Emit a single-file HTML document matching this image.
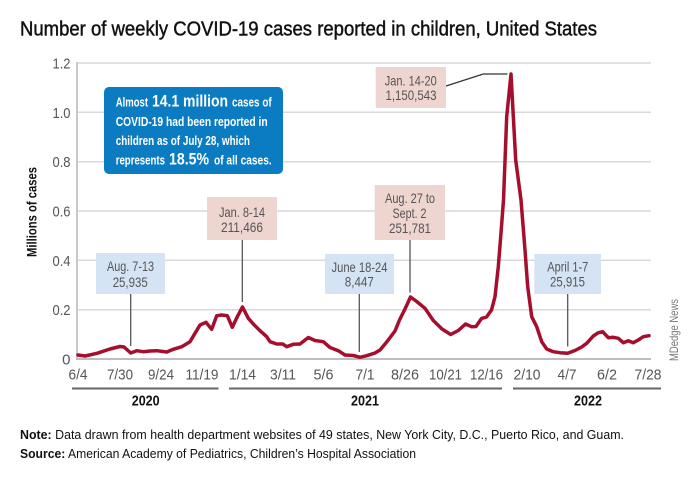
<!DOCTYPE html>
<html><head><meta charset="utf-8"><style>
html,body{margin:0;padding:0;background:#fff;}
svg{display:block;}
text{font-family:"Liberation Sans Narrow","Liberation Sans",sans-serif;}
</style></head><body>
<svg width="690" height="479" viewBox="0 0 690 479" xmlns="http://www.w3.org/2000/svg">
<rect width="690" height="479" fill="#fff"/>
<!-- title -->
<text x="20" y="35.5" font-size="20" fill="#111" stroke="#111" stroke-width="0.45" textLength="577" lengthAdjust="spacingAndGlyphs">Number of weekly COVID-19 cases reported in children, United States</text>

<!-- gridlines -->
<g stroke="#d9d9d9" stroke-width="1.5">
<line x1="77" y1="63" x2="651" y2="63"/>
<line x1="77" y1="112.3" x2="651" y2="112.3"/>
<line x1="77" y1="161.7" x2="651" y2="161.7"/>
<line x1="77" y1="211" x2="651" y2="211"/>
<line x1="77" y1="260.3" x2="651" y2="260.3"/>
<line x1="77" y1="309.7" x2="651" y2="309.7"/>
</g>
<line x1="77" y1="62" x2="77" y2="360" stroke="#c8c8c8" stroke-width="2"/>
<line x1="76" y1="359" x2="651" y2="359" stroke="#bdbdbd" stroke-width="2"/>

<!-- y tick labels -->
<g font-size="15" fill="#555" text-anchor="end">
<text x="70.5" y="68.5" textLength="18" lengthAdjust="spacingAndGlyphs">1.2</text>
<text x="70.5" y="117.8" textLength="18" lengthAdjust="spacingAndGlyphs">1.0</text>
<text x="70.5" y="167.2" textLength="18" lengthAdjust="spacingAndGlyphs">0.8</text>
<text x="70.5" y="216.5" textLength="18" lengthAdjust="spacingAndGlyphs">0.6</text>
<text x="70.5" y="265.8" textLength="18" lengthAdjust="spacingAndGlyphs">0.4</text>
<text x="70.5" y="315.2" textLength="18" lengthAdjust="spacingAndGlyphs">0.2</text>
<text x="70.5" y="364.5">0</text>
</g>
<text transform="translate(36.5,212) rotate(-90)" x="0" y="0" font-size="14" font-weight="bold" fill="#111" text-anchor="middle" textLength="90" lengthAdjust="spacingAndGlyphs">Millions of cases</text>

<!-- x tick labels -->
<g font-size="15" fill="#555" text-anchor="middle">
<text x="78" y="379.5" textLength="19" lengthAdjust="spacingAndGlyphs">6/4</text>
<text x="120" y="379.5" textLength="26" lengthAdjust="spacingAndGlyphs">7/30</text>
<text x="161" y="379.5" textLength="26" lengthAdjust="spacingAndGlyphs">9/24</text>
<text x="202" y="379.5" textLength="33" lengthAdjust="spacingAndGlyphs">11/19</text>
<text x="242.5" y="379.5" textLength="27" lengthAdjust="spacingAndGlyphs">1/14</text>
<text x="283" y="379.5" textLength="26" lengthAdjust="spacingAndGlyphs">3/11</text>
<text x="323.5" y="379.5" textLength="20" lengthAdjust="spacingAndGlyphs">5/6</text>
<text x="365" y="379.5" textLength="19" lengthAdjust="spacingAndGlyphs">7/1</text>
<text x="405" y="379.5" textLength="28" lengthAdjust="spacingAndGlyphs">8/26</text>
<text x="445.5" y="379.5" textLength="33" lengthAdjust="spacingAndGlyphs">10/21</text>
<text x="486.5" y="379.5" textLength="33" lengthAdjust="spacingAndGlyphs">12/16</text>
<text x="527" y="379.5" textLength="27" lengthAdjust="spacingAndGlyphs">2/10</text>
<text x="567" y="379.5" textLength="19" lengthAdjust="spacingAndGlyphs">4/7</text>
<text x="607" y="379.5" textLength="20" lengthAdjust="spacingAndGlyphs">6/2</text>
<text x="648" y="379.5" textLength="27" lengthAdjust="spacingAndGlyphs">7/28</text>
</g>

<!-- year brackets -->
<g stroke="#666" stroke-width="2">
<line x1="72" y1="388.5" x2="218.5" y2="388.5"/>
<line x1="229" y1="388.5" x2="502" y2="388.5"/>
<line x1="513" y1="388.5" x2="661" y2="388.5"/>
</g>
<g font-size="15" font-weight="bold" fill="#111" text-anchor="middle">
<text x="145.7" y="405.5" textLength="28" lengthAdjust="spacingAndGlyphs">2020</text>
<text x="365" y="405.5" textLength="28" lengthAdjust="spacingAndGlyphs">2021</text>
<text x="588" y="405.5" textLength="28" lengthAdjust="spacingAndGlyphs">2022</text>
</g>

<!-- MDedge -->
<text transform="translate(678,330) rotate(-90)" x="0" y="0" font-size="12" fill="#777" text-anchor="middle" textLength="62" lengthAdjust="spacingAndGlyphs">MDedge News</text>

<!-- leader lines -->
<g stroke="#555" stroke-width="1.3" fill="none">
<line x1="130.7" y1="294" x2="130.7" y2="346"/>
<line x1="242.3" y1="240" x2="242.3" y2="302"/>
<line x1="359.3" y1="294" x2="359.3" y2="352"/>
<line x1="410" y1="240" x2="410" y2="292.5"/>
<line x1="567.7" y1="294" x2="567.7" y2="346.5"/>
<polyline points="446,86 483.3,74 507.5,74" stroke="#333"/>
</g>

<!-- data line -->
<polyline fill="none" stroke="#a50e2c" stroke-width="3.5" stroke-linejoin="round" stroke-linecap="round" points="78,355 85,356 97,353.3 110,349 120,346.5 124,347 130.7,353 136.7,350.7 143.3,351.7 150,351 156.7,350.7 166.7,352 173.3,349.3 181.7,346.7 190,341.7 195,333.3 200,325 206,322.3 211.7,329.3 216.7,315.7 221.7,315 227.3,315.7 232.3,327.3 237.3,316.7 242.5,307 248.3,318.3 253.3,324 260,330.7 266.7,336.7 270,341.7 276.7,344 282.7,344 286.7,346.7 293.3,344.3 300,344 308.3,337.5 315,340.5 323.3,341.7 330,347.5 338.3,350.7 345,355 353.3,355.5 360,357.3 366.7,355.7 375,353 380,350 386.7,342 395,331 399.5,320 405,309 410.5,297 416.7,301.5 425,308.3 433.3,320.5 442,329 450.7,334.5 458.3,330.5 465.5,324 471.5,326.7 476,326.5 481.5,318.5 486.5,317 491.5,310 495,296.7 498.3,266.7 501,233 503.5,200 506.7,116.7 511,74 515.7,160 521,200 525,250 527.7,286.7 531.7,316.7 536.7,326.7 541.7,341.7 546.7,349 553.3,351.7 560,352.7 567.7,353.3 575,350.5 581.7,347 586.7,343.3 593.3,336 598.3,332.7 602.7,331.7 608.3,337.7 613.3,337.3 618.3,338.3 623.3,342.7 628.3,340.7 633.3,342.7 638.3,340 643.3,336.7 649,335.7"/>

<!-- annotation boxes -->
<rect x="96" y="253" width="69" height="41" fill="#d5e4f5"/>
<rect x="207" y="197" width="70" height="43" fill="#efd5d0"/>
<rect x="325" y="254" width="69" height="40" fill="#d5e4f5"/>
<rect x="374.7" y="185" width="70.3" height="55" fill="#efd5d0"/>
<rect x="375.7" y="67" width="70.3" height="41" fill="#efd5d0"/>
<rect x="534.3" y="254" width="66.7" height="40" fill="#d5e4f5"/>

<g font-size="14" fill="#555" text-anchor="middle">
<text x="130.5" y="271" textLength="47" lengthAdjust="spacingAndGlyphs">Aug. 7-13</text>
<text x="130.2" y="287" textLength="35" lengthAdjust="spacingAndGlyphs">25,935</text>
<text x="242" y="217" textLength="46" lengthAdjust="spacingAndGlyphs">Jan. 8-14</text>
<text x="242" y="232" textLength="42" lengthAdjust="spacingAndGlyphs">211,466</text>
<text x="359.5" y="272" textLength="56" lengthAdjust="spacingAndGlyphs">June 18-24</text>
<text x="359.3" y="286.5" textLength="29" lengthAdjust="spacingAndGlyphs">8,447</text>
<text x="410" y="203" textLength="50" lengthAdjust="spacingAndGlyphs">Aug. 27 to</text>
<text x="409.5" y="218" textLength="34" lengthAdjust="spacingAndGlyphs">Sept. 2</text>
<text x="410" y="233" textLength="42" lengthAdjust="spacingAndGlyphs">251,781</text>
<text x="410.8" y="85.5" textLength="52" lengthAdjust="spacingAndGlyphs">Jan. 14-20</text>
<text x="411" y="100" textLength="51" lengthAdjust="spacingAndGlyphs">1,150,543</text>
<text x="567.8" y="271.5" textLength="41" lengthAdjust="spacingAndGlyphs">April 1-7</text>
<text x="567.5" y="286.5" textLength="35" lengthAdjust="spacingAndGlyphs">25,915</text>
</g>

<!-- info box -->
<rect x="104" y="87" width="179" height="87" rx="5" ry="5" fill="#0b7bc2"/>
<g fill="#fff" font-weight="bold">
<text x="115.7" y="106.5" font-size="13" textLength="32.3" lengthAdjust="spacingAndGlyphs">Almost</text>
<text x="152" y="106.5" font-size="17" textLength="76" lengthAdjust="spacingAndGlyphs">14.1 million</text>
<text x="232" y="106.5" font-size="13" textLength="39.7" lengthAdjust="spacingAndGlyphs">cases of</text>
<text x="115.7" y="126" font-size="13" textLength="152" lengthAdjust="spacingAndGlyphs">COVID-19 had been reported in</text>
<text x="115.7" y="145" font-size="13" textLength="134.3" lengthAdjust="spacingAndGlyphs">children as of July 28, which</text>
<text x="115.7" y="164.5" font-size="13" textLength="49.3" lengthAdjust="spacingAndGlyphs">represents</text>
<text x="169" y="164.5" font-size="17" textLength="40" lengthAdjust="spacingAndGlyphs">18.5%</text>
<text x="214" y="164.5" font-size="13" textLength="57.7" lengthAdjust="spacingAndGlyphs">of all cases.</text>
</g>

<!-- notes -->
<text x="20" y="439" font-size="13" fill="#111" textLength="604" lengthAdjust="spacingAndGlyphs"><tspan font-weight="bold">Note:</tspan> Data drawn from health department websites of 49 states, New York City, D.C., Puerto Rico, and Guam.</text>
<text x="20" y="458" font-size="13" fill="#111" textLength="396" lengthAdjust="spacingAndGlyphs"><tspan font-weight="bold">Source:</tspan> American Academy of Pediatrics, Children’s Hospital Association</text>
</svg>
</body></html>
